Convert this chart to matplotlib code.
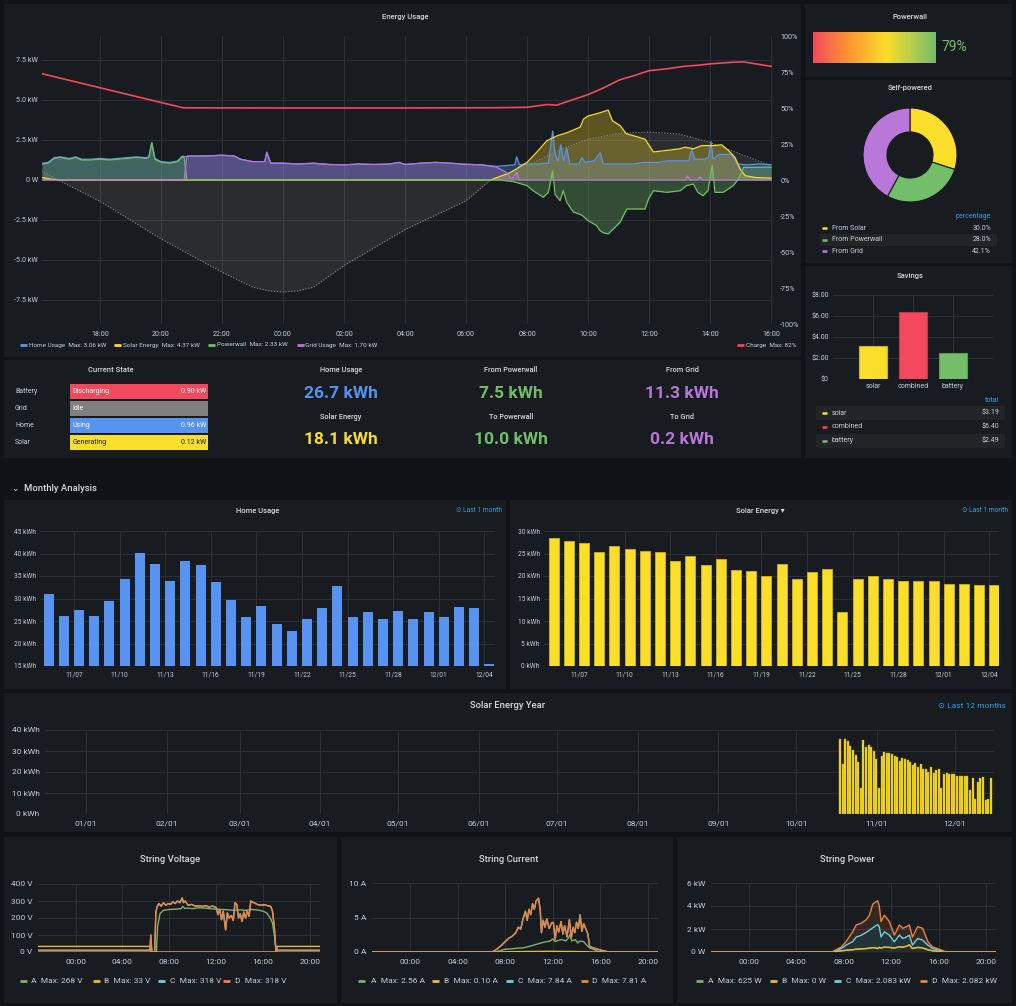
import numpy as np
import matplotlib
matplotlib.use("Agg")
import matplotlib.pyplot as plt
from matplotlib.patches import Rectangle
from matplotlib.lines import Line2D
from matplotlib.colors import LinearSegmentedColormap

plt.rcParams['font.family'] = ['Roboto', 'DejaVu Sans']

# ======================= DATA =======================
# --- Energy Usage (hours since midnight of first day, kW) ---
home_t = [16.1, 16.3, 16.5, 16.7, 17.0, 17.2, 17.4, 17.7, 18.0, 18.3,
          18.6, 18.9, 19.2, 19.5, 19.6, 19.7, 19.8, 20.0, 20.3, 20.55,
          20.7, 20.8, 21.0, 21.5, 22.0, 22.4, 22.6, 23.0, 23.4, 23.47,
          23.6, 24.0, 24.5, 25.0, 25.5, 26.0, 26.5, 27.0, 27.5, 27.8,
          28.0, 28.5, 29.0, 29.5, 30.0, 30.5, 31.0, 31.3, 31.6, 31.66,
          31.75, 32.0, 32.4, 32.7, 32.84, 32.92, 33.02, 33.1, 33.2, 33.3,
          33.4, 33.7, 33.8, 33.9, 34.2, 34.4, 34.5, 35.0, 35.5, 35.8,
          36.3, 36.6, 37.0, 37.3, 37.4, 37.5, 37.8, 37.95, 38.03, 38.1,
          38.3, 38.7, 38.9, 39.2, 39.6, 40.0]
home_kw = [1.05, 1.1, 1.4, 1.45, 1.35, 1.45, 1.3, 1.3, 1.35, 1.3,
           1.35, 1.4, 1.45, 1.4, 1.45, 2.33, 1.35, 1.15, 1.1, 1.2,
           1.5, 1.45, 1.5, 1.5, 1.55, 1.5, 1.3, 1.15, 1.15, 1.75,
           1.05, 1.05, 1.0, 1.05, 0.97, 0.95, 1.0, 0.97, 1.0, 1.1,
           0.97, 1.05, 1.1, 1.05, 0.98, 0.95, 0.85, 0.9, 0.95, 1.45,
           0.95, 1.0, 1.0, 1.05, 3.06, 1.6, 1.2, 2.2, 1.2, 2.0,
           1.0, 1.0, 1.4, 1.1, 1.2, 1.7, 1.0, 1.0, 1.0, 1.1,
           1.1, 1.2, 1.2, 1.2, 1.9, 1.3, 1.3, 1.4, 2.4, 1.3,
           1.6, 1.6, 1.0, 0.95, 1.0, 0.96]

solar_t = [16.1, 16.4, 16.7, 30.8, 31.44, 32.0, 32.3, 32.65, 32.97, 33.3,
           33.74, 33.85, 34.0, 34.39, 34.66, 34.8, 35.05, 35.25, 35.87, 36.14,
           36.58, 37.0, 37.18, 37.45, 37.73, 38.11, 38.38, 38.6, 38.82, 38.98,
           39.15, 39.5, 40.0]
solar_kw = [0.15, 0.05, 0.0, 0.0, 0.45, 1.1, 1.7, 2.45, 2.75, 2.95,
            3.3, 3.8, 4.0, 4.2, 4.37, 3.7, 3.4, 2.9, 2.55, 1.75,
            1.85, 1.95, 2.05, 1.95, 2.15, 2.15, 2.2, 1.85, 1.4, 0.7,
            0.27, 0.15, 0.12]

pw_t = [16.1, 16.3, 16.5, 16.7, 17.0, 17.2, 17.4, 17.7, 18.0, 18.3,
        18.6, 18.9, 19.2, 19.5, 19.6, 19.7, 19.8, 20.0, 20.3, 20.55,
        20.7, 20.76, 20.85, 31.1, 31.55, 32.0, 32.2, 32.53, 32.7, 32.84,
        32.92, 33.08, 33.19, 33.3, 33.52, 33.8, 34.0, 34.28, 34.39, 34.5,
        34.66, 34.83, 35.05, 35.27, 35.87, 35.98, 36.14, 36.58, 37.02, 37.23,
        37.45, 37.6, 37.77, 37.93, 38.07, 38.16, 38.43, 38.76, 38.93, 39.1,
        39.43, 40.0]
pw_kw = [1.0, 1.05, 1.35, 1.4, 1.3, 1.4, 1.25, 1.25, 1.3, 1.25,
         1.3, 1.35, 1.4, 1.35, 1.4, 2.33, 1.3, 1.1, 1.05, 1.15,
         1.45, 1.4, 0.0, 0.0, -0.1, -0.35, -0.67, -1.08, -0.77, 0.58,
         -0.9, -1.29, -0.66, -1.39, -2.0, -2.2, -2.54, -2.85, -3.16, -3.3,
         -3.37, -3.06, -2.64, -1.81, -1.81, -1.19, -0.67, -0.77, -0.67, -0.35,
         -0.25, -0.77, -0.98, -0.67, 0.9, -0.77, -0.77, -0.35, 0.06, 0.79,
         0.79, 0.8]

grid_t = [16.1, 20.76, 20.85, 21.5, 22.0, 22.4, 22.6, 23.0, 23.4, 23.47,
          23.6, 24.0, 24.5, 25.0, 25.5, 26.0, 26.5, 27.0, 27.5, 27.8,
          28.0, 28.5, 29.0, 29.5, 30.0, 30.5, 31.0, 31.3, 31.5, 31.66,
          31.75, 37.2, 37.25, 37.35, 37.6, 37.67, 37.75, 40.0]
grid_kw = [0.0, 0.0, 1.5, 1.5, 1.55, 1.5, 1.3, 1.15, 1.15, 1.7,
           1.05, 1.05, 1.0, 1.05, 0.97, 0.95, 1.0, 0.97, 1.0, 1.1,
           0.97, 1.05, 1.1, 1.05, 0.98, 0.95, 0.8, 0.5, 0.05, 0.5,
           0.0, 0.0, 0.25, 0.0, 0.0, 0.2, 0.0, 0.0]

sun_t = [16.09, 16.63, 18.0, 20.0, 22.0, 23.0, 23.5, 24.0, 24.5, 25.0,
         26.0, 28.0, 30.0, 30.8, 32.0, 33.0, 34.0, 35.0, 36.0, 37.0,
         38.0, 39.0, 40.0]
sun_kw = [0.58, 0.0, -1.33, -3.68, -5.76, -6.69, -6.92, -7.0, -6.92, -6.7,
          -5.35, -3.1, -1.3, 0.0, 0.9, 1.83, 2.56, 2.91, 3.0, 2.87,
          2.35, 1.62, 0.89]

charge_t = [16.1, 20.73, 24.0, 28.0, 31.0, 32.0, 32.65, 32.97, 33.52, 34.0,
            34.5, 35.05, 35.5, 36.0, 36.58, 37.13, 37.67, 38.03, 38.76, 39.1,
            39.43, 40.0]
charge_pct = [73.8, 50.1, 50.0, 50.0, 50.2, 50.5, 52.4, 52.0, 55.9, 59.3,
              63.9, 69.7, 72.4, 75.9, 77.2, 78.9, 79.8, 80.7, 81.8, 82.0,
              80.9, 78.9]

energy_xticks = [18, 20, 22, 24, 26, 28, 30, 32, 34, 36, 38, 40]
energy_xlabels = ['18:00', '20:00', '22:00', '00:00', '02:00', '04:00',
                  '06:00', '08:00', '10:00', '12:00', '14:00', '16:00']
energy_yticks = [-7.5, -5.0, -2.5, 0, 2.5, 5.0, 7.5]
energy_ylabels = ['-7.5 kW', '-5.0 kW', '-2.5 kW', '0 W', '2.5 kW', '5.0 kW', '7.5 kW']
charge_ticks = [-100, -75, -50, -25, 0, 25, 50, 75, 100]

energy_legend = ['Home Usage  Max: 3.06 kW', 'Solar Energy  Max: 4.37 kW',
                 'Powerwall  Max: 2.33 kW', 'Grid Usage  Max: 1.70 kW']

# --- Powerwall / self-powered / savings ---
powerwall_pct = 79
self_labels = ['From Solar', 'From Powerwall', 'From Grid']
self_pct = [30.0, 28.0, 42.1]
save_labels = ['solar', 'combined', 'battery']
save_vals = [3.19, 6.40, 2.49]

# --- Current state ---
state_rows = ['Battery', 'Grid', 'Home', 'Solar']
state_text = ['Discharging', 'Idle', 'Using', 'Generating']
state_vals = ['0.90 kW', '', '0.96 kW', '0.12 kW']

# --- Stats ---
stat_titles = ['Home Usage', 'From Powerwall', 'From Grid', 'Solar Energy', 'To Powerwall', 'To Grid']
stat_values = ['26.7 kWh', '7.5 kWh', '11.3 kWh', '18.1 kWh', '10.0 kWh', '0.2 kWh']

# --- Monthly analysis (day of month offset from Nov 1) ---
month_days = list(range(5, 35))
home_month = [31.0, 26.1, 27.5, 26.2, 29.5, 34.3, 40.1, 37.6, 33.9, 38.4,
              37.5, 33.6, 29.7, 26.0, 28.3, 24.4, 22.8, 25.4, 27.8, 32.8,
              26.0, 26.9, 25.4, 27.2, 25.4, 27.1, 26.0, 28.1, 27.8, 15.4]
solar_month = [28.5, 27.7, 27.4, 25.3, 26.6, 26.1, 25.6, 25.3, 23.4, 24.4,
               22.4, 23.7, 21.3, 21.2, 20.1, 22.7, 19.4, 21.0, 21.5, 12.1,
               19.3, 19.9, 19.4, 18.9, 19.0, 19.0, 18.3, 18.2, 17.9, 18.0]
month_xticks = [7, 10, 13, 16, 19, 22, 25, 28, 31, 34]
month_xlabels = ['11/07', '11/10', '11/13', '11/16', '11/19', '11/22',
                 '11/25', '11/28', '12/01', '12/04']

# --- Solar energy year (day of year, 0 = 01/01) ---
year_first_day = 289.8
year_vals = [35.7, 23.8, 35.5, 34.8, 32.5, 30.5, 28.1, 24.6, 12.2, 35.2,
             32.1, 32.9, 31.7, 30.0, 26.0, 12.2, 27.8, 29.4, 28.9, 28.9,
             28.4, 27.6, 27.3, 25.4, 26.5, 26.0, 25.6, 24.9, 23.3, 24.1,
             22.4, 23.7, 21.3, 21.3, 20.2, 22.5, 19.4, 21.0, 21.6, 12.2,
             19.2, 19.7, 19.2, 18.9, 19.0, 18.3, 18.1, 17.9, 17.9, 17.9,
             11.4, 17.3, 7.1, 15.1, 17.0, 17.8, 6.7, 7.1, 17.3]
year_xticks = [0, 31, 59, 90, 120, 151, 181, 212, 243, 273, 304, 334]
year_xlabels = ['01/01', '02/01', '03/01', '04/01', '05/01', '06/01',
                '07/01', '08/01', '09/01', '10/01', '11/01', '12/01']

# --- Strings (hours relative to midnight) ---
string_xticks = [0, 4, 8, 12, 16, 20]
string_xlabels = ['00:00', '04:00', '08:00', '12:00', '16:00', '20:00']

volt_D_t = [-3.2, 6.35, 6.42, 6.5, 6.55, 6.75, 6.85, 6.95, 7.1, 7.3,
            7.5, 7.7, 7.9, 8.1, 8.3, 8.5, 8.7, 8.9, 9.1, 9.2,
            9.35, 9.6, 9.9, 10.2, 10.5, 10.8, 11.1, 11.4, 11.7, 12.0,
            12.15, 12.3, 12.45, 12.6, 12.8, 12.95, 13.1, 13.3, 13.45, 13.6,
            13.75, 13.9, 14.05, 14.2, 14.35, 14.5, 14.65, 14.8, 14.95, 15.2,
            15.5, 15.8, 16.1, 16.4, 16.65, 16.8, 16.95, 17.1, 17.2, 20.85]
volt_D = [10, 10, 100, 10, 0, 0, 230, 265, 285, 270,
          290, 275, 285, 280, 295, 285, 300, 290, 318, 290,
          300, 275, 280, 270, 272, 268, 272, 265, 270, 262,
          220, 250, 190, 240, 130, 230, 200, 215, 185, 290,
          280, 200, 225, 180, 235, 200, 240, 210, 300, 290,
          280, 275, 278, 272, 268, 240, 150, 0, 10, 10]
volt_C_t = volt_D_t
volt_C = volt_D
volt_A_t = [-3.2, 6.9, 7.0, 7.2, 7.5, 8.0, 8.5, 9.0, 9.15, 9.3,
            9.5, 10.0, 10.5, 11.0, 11.5, 12.0, 12.5, 13.0, 13.5, 14.0,
            14.5, 15.0, 15.5, 16.0, 16.3, 16.6, 16.8, 17.0, 17.1, 20.85]
volt_A = [0, 0, 150, 225, 245, 250, 252, 255, 268, 256,
          258, 255, 260, 258, 255, 252, 250, 248, 245, 248,
          245, 250, 248, 240, 230, 200, 170, 80, 0, 0]
volt_B_t = [-3.2, 6.4, 6.45, 17.15, 17.2, 20.85]
volt_B = [33, 33, 0, 0, 33, 33]

cur_D_t = [-3.2, 6.9, 7.3, 7.7, 8.0, 8.3, 8.6, 8.9, 9.1, 9.3,
           9.5, 9.7, 9.85, 10.0, 10.15, 10.3, 10.45, 10.6, 10.8, 10.95,
           11.05, 11.2, 11.35, 11.5, 11.7, 11.9, 12.05, 12.2, 12.35, 12.5,
           12.7, 12.85, 13.0, 13.2, 13.4, 13.55, 13.7, 13.85, 14.0, 14.15,
           14.3, 14.45, 14.6, 14.8, 14.95, 15.1, 15.4, 15.8, 16.2, 16.6,
           17.0, 20.85]
cur_D = [0, 0, 0.4, 1.0, 1.5, 2.0, 2.3, 2.8, 3.6, 3.3,
         4.8, 5.9, 4.6, 6.2, 5.4, 7.0, 6.2, 7.4, 7.81, 6.0,
         2.8, 4.6, 3.6, 4.8, 3.4, 4.2, 4.3, 1.8, 3.8, 2.9,
         4.4, 2.6, 3.8, 2.2, 4.7, 2.0, 3.6, 2.8, 4.3, 3.4,
         5.4, 3.0, 4.1, 3.3, 2.6, 0.8, 0.6, 0.4, 0.2, 0.05,
         0, 0]
cur_C_t = cur_D_t
cur_C = cur_D
cur_A_t = [-3.2, 7.2, 7.6, 8.0, 8.5, 9.0, 9.5, 10.0, 10.4, 10.8,
           11.2, 11.5, 11.8, 12.0, 12.2, 12.5, 12.8, 13.1, 13.3, 13.45,
           13.6, 13.9, 14.1, 14.3, 14.6, 14.85, 15.1, 15.4, 15.8, 16.2,
           20.85]
cur_A = [0, 0, 0.2, 0.4, 0.45, 0.55, 0.6, 0.8, 1.0, 1.2,
         1.4, 1.5, 1.6, 1.9, 1.5, 1.7, 1.8, 1.6, 2.0, 2.56,
         1.6, 1.8, 1.3, 1.6, 1.5, 1.0, 0.6, 0.4, 0.1, 0,
         0]
cur_B_t = [-3.2, 7.5, 8.5, 10.5, 11.5, 13.0, 14.5, 15.5, 20.85]
cur_B = [0, 0, 0.05, 0.08, 0.1, 0.08, 0.05, 0, 0]

pow_t = [-3.2, 7.0, 7.8, 8.2, 8.76, 9.05, 9.47, 9.9, 10.17, 10.45,
         10.73, 10.87, 11.0, 11.15, 11.43, 11.85, 12.27, 12.7, 12.98, 13.3,
         13.54, 13.8, 14.24, 14.66, 15.1, 15.5, 16.07, 16.5, 17.0, 20.85]
pow_A = [0, 0, 0.1, 0.15, 0.2, 0.24, 0.27, 0.3, 0.33, 0.38,
         0.35, 0.3, 0.4, 0.35, 0.42, 0.4, 0.35, 0.45, 0.42, 0.5,
         0.62, 0.3, 0.4, 0.35, 0.2, 0.1, 0.05, 0.0, 0, 0]
pow_B = [0, 0, 0, 0, 0, 0, 0, 0, 0, 0,
         0, 0, 0, 0, 0, 0, 0, 0, 0, 0,
         0, 0, 0, 0, 0, 0, 0, 0, 0, 0]
pow_C = [0, 0, 0.2, 0.45, 0.7, 1.06, 1.18, 1.4, 1.57, 1.72,
         1.95, 2.08, 1.8, 0.95, 1.34, 1.07, 0.53, 1.02, 0.76, 0.8,
         0.85, 0.3, 0.78, 0.68, 0.4, 0.2, 0.1, 0, 0, 0]
pow_D = [0, 0, 0.14, 0.3, 0.86, 1.05, 1.05, 1.1, 1.3, 2.06,
         2.08, 2.07, 1.77, 1.35, 1.44, 1.18, 0.59, 0.88, 0.88, 0.9,
         0.88, 0.7, 1.02, 1.03, 0.3, 0.14, 0.09, 0.06, 0, 0]

volt_legend = ['A  Max: 268 V', 'B  Max: 33 V', 'C  Max: 318 V', 'D  Max: 318 V']
cur_legend = ['A  Max: 2.56 A', 'B  Max: 0.10 A', 'C  Max: 7.84 A', 'D  Max: 7.81 A']
pow_legend = ['A  Max: 625 W', 'B  Max: 0 W', 'C  Max: 2.083 kW', 'D  Max: 2.082 kW']

# ======================= STYLE =======================
PAGE = '#111217'
PANEL = '#181b1f'
GRID = '#2e3035'
TXT = '#d8d9da'
TICK = '#c7d0d9'
LINK = '#33a2e5'
ROWBG = '#222428'
BLUE, YELLOW, GREEN, PURPLE, RED = '#5794F2', '#FADE2A', '#73BF69', '#B877D9', '#F2495C'
SA, SB, SC, SD = '#7EB26D', '#EAB839', '#6ED0E0', '#EF843C'

W, H = 1016, 1006
fig = plt.figure(figsize=(W / 100, H / 100), dpi=100, facecolor=PAGE)


def fx(x):
    return x / W


def fy(y):
    return 1 - y / H


def panel(x0, y0, x1, y1, color=PANEL):
    fig.add_artist(Rectangle((fx(x0), fy(y1)), (x1 - x0) / W, (y1 - y0) / H,
                             transform=fig.transFigure, facecolor=color,
                             edgecolor='none', zorder=-10))


def axpx(x0, y0, x1, y1):
    ax = fig.add_axes([fx(x0), fy(y1), (x1 - x0) / W, (y1 - y0) / H])
    ax.set_facecolor('none')
    return ax


def txt(x, y, s, size=5.5, color=TXT, ha='center', va='center', weight='normal', **kw):
    return fig.text(fx(x), fy(y), s, fontsize=size, color=color, ha=ha, va=va,
                    fontweight=weight, **kw)


def mark(x0, x1, y, color, lw=2.0):
    fig.add_artist(Line2D([fx(x0), fx(x1)], [fy(y), fy(y)], transform=fig.transFigure,
                          color=color, lw=lw, solid_capstyle='butt'))


def style(ax, size=5.0, xpad=4, ypad=3, xgrid=True, ygrid=True):
    for s in ax.spines.values():
        s.set_visible(False)
    ax.tick_params(length=0, labelsize=size, labelcolor=TICK)
    ax.tick_params(axis='x', pad=xpad)
    ax.tick_params(axis='y', pad=ypad)
    if xgrid:
        ax.xaxis.grid(True, color=GRID, lw=0.7)
    if ygrid:
        ax.yaxis.grid(True, color=GRID, lw=0.7)
    ax.set_axisbelow(True)


# ---------------- panels ----------------
for p in [(4, 4, 801, 357), (805, 4, 1012, 77), (805, 80, 1012, 263), (805, 266, 1012, 458),
          (4, 360, 801, 458), (4, 500, 506, 689), (510, 500, 1012, 689), (4, 693, 1012, 832),
          (4, 837, 337, 1003), (341, 837, 673, 1003), (677, 837, 1012, 1003)]:
    panel(*p)

# ---------------- Energy Usage ----------------
txt(405, 17, 'Energy Usage', weight='medium')
ax = axpx(42, 36, 772, 324)
style(ax, size=5.2, xpad=5, ypad=3)
ax.set_xlim(16.1, 40.03)
ax.set_ylim(-9, 9)
ax.set_xticks(energy_xticks)
ax.set_xticklabels(energy_xlabels)
ax.set_yticks(energy_yticks)
ax.set_yticklabels(energy_ylabels)
ax.fill_between(sun_t, sun_kw, 0, color='#ffffff', alpha=0.08, lw=0)
ax.plot(sun_t, sun_kw, color='#8a8a8a', lw=0.8, ls=(0, (1, 1.6)))
for t, v, c in [(home_t, home_kw, BLUE), (solar_t, solar_kw, YELLOW),
                (pw_t, pw_kw, GREEN), (grid_t, grid_kw, PURPLE)]:
    ax.fill_between(t, v, 0, color=c, alpha=0.3, lw=0)
    ax.plot(t, v, color=c, lw=0.9)
ax2 = ax.twinx()
ax2.set_facecolor('none')
for s in ax2.spines.values():
    s.set_visible(False)
ax2.set_ylim(-100, 100)
ax2.set_yticks(charge_ticks)
ax2.set_yticklabels([f'{v}%' for v in charge_ticks])
ax2.tick_params(length=0, labelsize=5.2, labelcolor=TICK, pad=6)
ax2.plot(charge_t, charge_pct, color=RED, lw=1.2)

for (mx, tx), lab, c in zip([(20, 29), (114, 123), (208, 217), (297, 305)], energy_legend,
                            [BLUE, YELLOW, GREEN, PURPLE]):
    mark(mx, mx + 7, 345, c)
    txt(tx, 345, lab, size=4.6, color=TICK, ha='left')
mark(737, 744, 345, RED)
txt(746, 345, 'Charge  Max: 82%', size=4.6, color=TICK, ha='left')

# ---------------- Powerwall gauge ----------------
txt(910, 17, 'Powerwall', weight='medium')
gax = axpx(813, 32, 936, 63)
gcm = LinearSegmentedColormap.from_list('pw', [(0, RED), (0.3, '#FF9830'), (0.6, YELLOW), (1.0, GREEN)])
gax.imshow(np.linspace(0, 1, 256)[None, :], cmap=gcm, aspect='auto', extent=(0, 100, 0, 1))
gax.set_xlim(0, 100)
gax.axis('off')
txt(942, 47, f'{powerwall_pct}%', size=10, color=GREEN, ha='left')

# ---------------- Self-powered ----------------
txt(910, 88, 'Self-powered', weight='medium')
pax = axpx(863, 108, 957, 202)
pax.pie(self_pct, colors=[YELLOW, GREEN, PURPLE], startangle=90, counterclock=False,
        wedgeprops=dict(width=0.51, edgecolor=PANEL, linewidth=0.8))
pax.set_xlim(-1, 1)
pax.set_ylim(-1, 1)
pax.set_aspect('equal')
txt(991, 217, 'percentage', size=5.0, color=LINK, ha='right')
panel(820, 234, 997, 246, ROWBG)
for i, (lab, v, c) in enumerate(zip(self_labels, self_pct, [YELLOW, GREEN, PURPLE])):
    yy = 228 + i * 11.7
    mark(822, 827, yy, c, lw=1.8)
    txt(832, yy, lab, size=5.0, color=TICK, ha='left')
    txt(991, yy, f'{v:.1f}%', size=5.0, color=TICK, ha='right')

# ---------------- Savings ----------------
txt(910, 276, 'Savings', weight='medium')
sax = axpx(833, 295, 993, 379)
style(sax, size=5.0, xpad=3, ypad=3)
sax.set_xlim(-1, 3)
sax.set_ylim(0, 8)
sax.set_yticks([0, 2, 4, 6, 8])
sax.set_yticklabels(['$0', '$2.00', '$4.00', '$6.00', '$8.00'])
sax.set_xticks(range(len(save_labels)))
sax.set_xticklabels(save_labels)
sax.bar(range(len(save_vals)), save_vals, width=0.7, color=[YELLOW, RED, GREEN],
        edgecolor=['#c9b222', '#c23a4a', '#5c9954'], lw=0.8, zorder=3)
txt(999, 400, 'total', size=5.0, color=LINK, ha='right')
panel(816, 406, 1005, 420, ROWBG)
panel(816, 434, 1005, 448, ROWBG)
for i, (lab, v, c) in enumerate(zip(save_labels, save_vals, [YELLOW, RED, GREEN])):
    yy = 413 + i * 14
    mark(822, 827, yy, c, lw=1.8)
    txt(832, yy, lab, size=5.0, color=TICK, ha='left')
    txt(999, yy, f'${v:.2f}', size=5.0, color=TICK, ha='right')

# ---------------- Current State ----------------
txt(111, 370, 'Current State', weight='medium')
cax = axpx(70, 383, 208, 451)
cax.set_xlim(0, 1)
cax.set_ylim(3.5, -0.5)
cax.axis('off')
scol = [RED, '#808080', BLUE, YELLOW]
tcol = ['#ffffff', '#ffffff', '#ffffff', '#202020']
cax.barh(range(4), [1, 1, 1, 1], height=0.88, color=scol)
for i in range(4):
    cax.text(-0.399, i, state_rows[i], fontsize=5.0, color=TICK, ha='left', va='center', clip_on=False)
    cax.text(0.02, i, state_text[i], fontsize=5.0, color=tcol[i], ha='left', va='center')
    cax.text(0.985, i, state_vals[i], fontsize=5.0, color=tcol[i], ha='right', va='center')

# ---------------- Stats ----------------
stat_x = [341, 511, 682]
stat_colors = [BLUE, GREEN, PURPLE, YELLOW, GREEN, PURPLE]
for i, (t, v) in enumerate(zip(stat_titles, stat_values)):
    xx = stat_x[i % 3]
    row = i // 3
    txt(xx, 370 + row * 47, t, size=5.3, weight='medium')
    txt(xx, 393 + row * 47, v, size=12.5, color=stat_colors[i], weight='semibold')

# ---------------- Monthly Analysis row ----------------
txt(15, 489, '\u2304', size=6.5, color=TICK)
txt(24, 489, 'Monthly Analysis', size=6.8, weight='medium', ha='left')

# Home usage monthly
txt(258, 511, 'Home Usage', weight='medium')
txt(502, 511, '\u2299 Last 1 month', size=4.8, color=LINK, ha='right')
hax = axpx(40, 531, 495, 666)
style(hax, size=4.8, xpad=4, ypad=3)
hax.set_xlim(4.76, 34.7)
hax.set_ylim(15, 45)
hax.set_yticks(range(15, 46, 5))
hax.set_yticklabels([f'{v} kWh' for v in range(15, 46, 5)])
hax.set_xticks(month_xticks)
hax.set_xticklabels(month_xlabels)
hax.bar([d + 0.33 for d in month_days], home_month, width=0.66, color=BLUE, zorder=3)

# Solar monthly
txt(760, 511, 'Solar Energy \u25BE', weight='medium')
txt(1008, 511, '\u2299 Last 1 month', size=4.8, color=LINK, ha='right')
smx = axpx(544, 531, 999, 666)
style(smx, size=4.8, xpad=4, ypad=3)
smx.set_xlim(4.7, 34.63)
smx.set_ylim(0, 30)
smx.set_yticks(range(0, 31, 5))
smx.set_yticklabels([f'{v} kWh' for v in range(0, 31, 5)])
smx.set_xticks(month_xticks)
smx.set_xticklabels(month_xlabels)
smx.bar([d + 0.33 for d in month_days], solar_month, width=0.66, color=YELLOW,
        edgecolor='#cdb41c', lw=0.6, zorder=3)

# ---------------- Solar Energy Year ----------------
txt(508, 706, 'Solar Energy Year', size=6.8, weight='medium')
txt(1006, 706, '\u2299 Last 12 months', size=6.0, color=LINK, ha='right')
yax = axpx(45, 730, 994, 814)
style(yax, size=6.0, xpad=5, ypad=4)
yax.set_xlim(-15.76, 349)
yax.set_ylim(0, 40)
yax.set_yticks(range(0, 41, 10))
yax.set_yticklabels([f'{v} kWh' for v in range(0, 41, 10)])
yax.set_xticks(year_xticks)
yax.set_xticklabels(year_xlabels)
yax.bar([year_first_day + i for i in range(len(year_vals))], year_vals, width=0.78,
        color=YELLOW, edgecolor='#b89f10', lw=0.3, zorder=3)


# ---------------- String panels ----------------
def string_axes(x0, x1, top, bottom, yticks, ylabels, ymax):
    a = axpx(x0, top, x1, bottom)
    style(a, size=6.0, xpad=5, ypad=4)
    a.set_xlim(-3.2, 20.85)
    a.set_ylim(0, ymax)
    a.set_yticks(yticks)
    a.set_yticklabels(ylabels)
    a.set_xticks(string_xticks)
    a.set_xticklabels(string_xlabels)
    return a


def string_legend(marks, texts, labels, y=981):
    for mx, tx, lab, c in zip(marks, texts, labels, [SA, SB, SC, SD]):
        mark(mx, mx + 7, y, c)
        txt(tx, y, lab, size=6.0, color=TICK, ha='left')


# Voltage
txt(170, 860, 'String Voltage', size=6.8, weight='medium')
vax = string_axes(38, 320, 884, 952, [0, 100, 200, 300, 400],
                  ['0 V', '100 V', '200 V', '300 V', '400 V'], 400)
for t, v, c in [(volt_A_t, volt_A, SA), (volt_B_t, volt_B, SB),
                (volt_C_t, volt_C, SC), (volt_D_t, volt_D, SD)]:
    vax.plot(t, v, color=c, lw=1.0)
string_legend([20, 93, 158, 223], [31, 104, 170, 235], volt_legend)

# Current
txt(509, 860, 'String Current', size=6.8, weight='medium')
iax = string_axes(372, 658, 883, 952, [0, 5, 10], ['0 A', '5 A', '10 A'], 10)
for t, v, c in [(cur_A_t, cur_A, SA), (cur_B_t, cur_B, SB),
                (cur_C_t, cur_C, SC), (cur_D_t, cur_D, SD)]:
    iax.plot(t, v, color=c, lw=1.0)
string_legend([358, 432, 506, 581], [371, 444, 518, 592], cur_legend)

# Power (stacked)
txt(847, 860, 'String Power', size=6.8, weight='medium')
wax = string_axes(711, 996, 883, 952, [0, 2, 4, 6], ['0 W', '2 kW', '4 kW', '6 kW'], 6)
base = np.zeros(len(pow_t))
for v, c in [(pow_A, SA), (pow_B, SB), (pow_C, SC), (pow_D, SD)]:
    top = base + np.array(v)
    wax.fill_between(pow_t, base, top, color=c, alpha=0.13, lw=0)
    wax.plot(pow_t, top, color=c, lw=1.0)
    base = top
string_legend([696, 770, 834, 920], [708, 782, 846, 932], pow_legend)

fig.savefig('out.png', dpi=100, facecolor=PAGE)
